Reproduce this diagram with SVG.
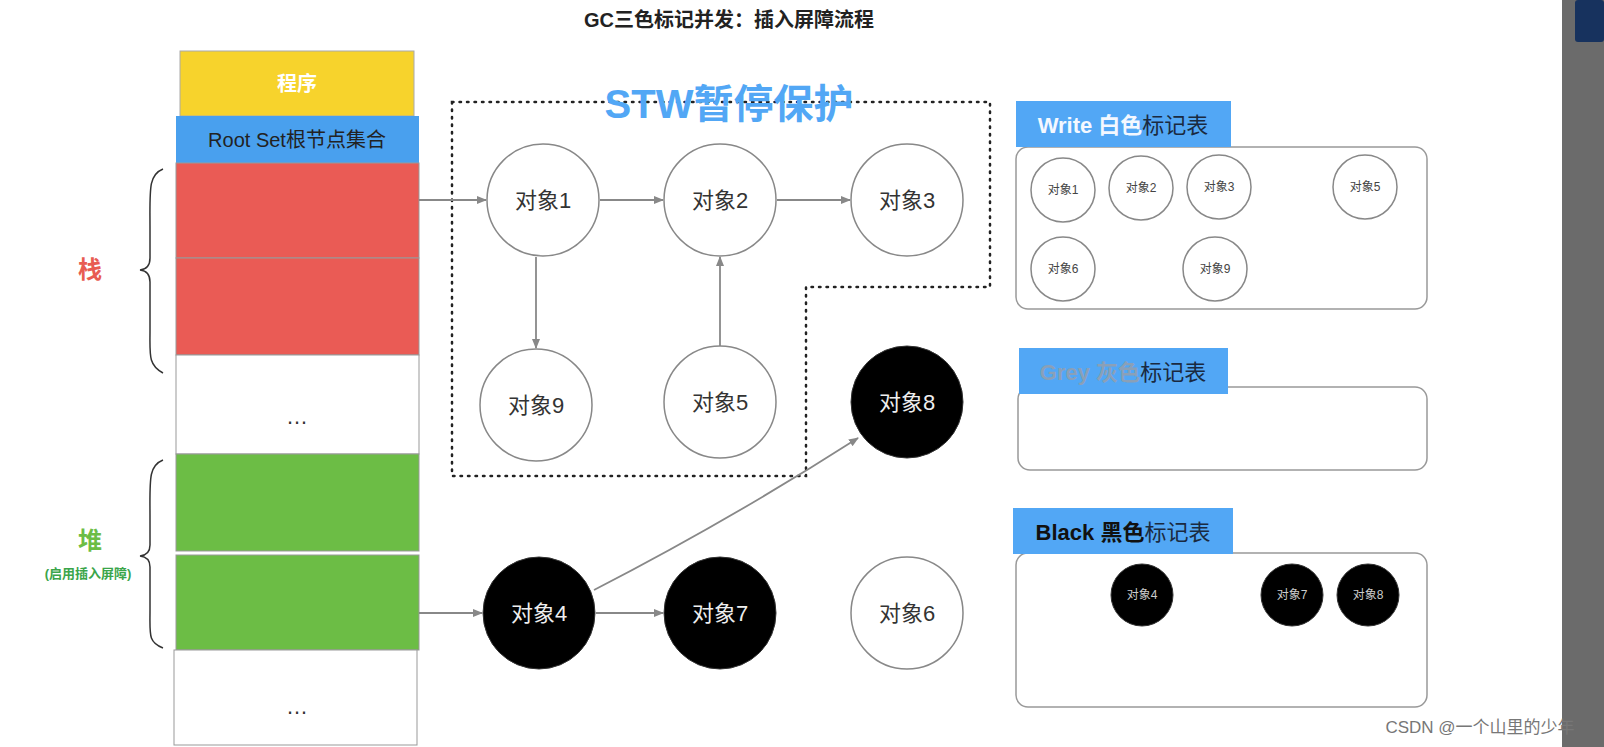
<svg xmlns="http://www.w3.org/2000/svg" width="1604" height="747" viewBox="0 0 1604 747">
<style>
text{font-family:"Liberation Sans","Noto Sans CJK SC",sans-serif;text-anchor:middle;dominant-baseline:central}
.c{fill:#fff;stroke:#888;stroke-width:1.5}
.b{fill:#000;stroke:#333}
.t{font-size:22px;fill:#333}
.tw{font-size:22px;fill:#eee}
.s{font-size:12px;fill:#444}
.sw{font-size:12px;fill:#ccc}
.e{stroke:#888;stroke-width:1.8;fill:none;marker-end:url(#a)}
.tb{fill:#fff;stroke:#999;stroke-width:1.5}
.lb{fill:#52a7f5}
</style>
<defs><marker id="a" markerWidth="10" markerHeight="8" refX="9" refY="4" orient="auto" markerUnits="userSpaceOnUse"><path d="M0,0L10,4L0,8z" fill="#888"/></marker></defs>
<rect width="1604" height="747" fill="#fff"/>
<text x="729" y="20" style="font-size:20px;font-weight:bold;fill:#222">GC三色标记并发：插入屏障流程</text>
<g id="stack">
<rect x="180" y="51" width="234" height="65" fill="#f7d32c" stroke="#aaa"/>
<text x="297" y="84" style="font-size:20px;fill:#fff;font-weight:bold">程序</text>
<rect x="176" y="116" width="243" height="47" fill="#49a0ee"/>
<text x="297" y="140" style="font-size:20px;fill:#222">Root Set根节点集合</text>
<rect x="176" y="163" width="243" height="95" fill="#ea5b55" stroke="#999"/>
<rect x="176" y="258" width="243" height="97" fill="#ea5b55" stroke="#999"/>
<rect x="176" y="355" width="243" height="99" fill="#fff" stroke="#999"/>
<text x="297" y="416" style="font-size:22px;fill:#333">…</text>
<rect x="176" y="454" width="243" height="97" fill="#6cbd45" stroke="#999"/>
<rect x="176" y="555" width="243" height="95" fill="#6cbd45" stroke="#999"/>
<rect x="174" y="650" width="243" height="95" fill="#fff" stroke="#999"/>
<text x="297" y="706" style="font-size:22px;fill:#333">…</text>
<path d="M163,169 C148,175 150,190 150,230 L150,258 Q150,269 140,270 Q150,271 150,282 L150,330 C150,355 148,365 163,373" fill="none" stroke="#333" stroke-width="1.5"/>
<text x="90" y="269" style="font-size:24px;fill:#e85c52;font-weight:bold">栈</text>
<path d="M163,460 C148,466 150,480 150,520 L150,545 Q150,555 140,556 Q150,557 150,567 L150,610 C150,635 148,642 163,648" fill="none" stroke="#333" stroke-width="1.5"/>
<text x="90" y="540" style="font-size:24px;fill:#6cbd45;font-weight:bold">堆</text>
<text x="88" y="573" style="font-size:13px;fill:#3aa54a;font-weight:bold">(启用插入屏障)</text>
</g>
<path d="M452,102 H990 V287 H806 V476 H452 Z" fill="none" stroke="#222" stroke-width="2.5" stroke-dasharray="1.5 6" stroke-linecap="round"/>
<text x="729" y="104" style="font-size:40px;fill:#52a7f5;font-weight:bold">STW暂停保护</text>
<g id="connectors">
<line class="e" x1="419" y1="200" x2="486" y2="200"/>
<line class="e" x1="600" y1="200" x2="663" y2="200"/>
<line class="e" x1="777" y1="200" x2="850" y2="200"/>
<line class="e" x1="536" y1="257" x2="536" y2="348"/>
<line class="e" x1="720" y1="346" x2="720" y2="257"/>
<line class="e" x1="419" y1="613" x2="482" y2="613"/>
<line class="e" x1="596" y1="613" x2="663" y2="613"/>
<path class="e" d="M594,590 Q730,520 858,438"/>
</g>
<g id="n1"><circle class="c" cx="543" cy="200" r="56"/><text class="t" x="543" y="200">对象1</text></g>
<g id="n2"><circle class="c" cx="720" cy="200" r="56"/><text class="t" x="720" y="200">对象2</text></g>
<g id="n3"><circle class="c" cx="907" cy="200" r="56"/><text class="t" x="907" y="200">对象3</text></g>
<g id="n9"><circle class="c" cx="536" cy="405" r="56"/><text class="t" x="536" y="405">对象9</text></g>
<g id="n5"><circle class="c" cx="720" cy="402" r="56"/><text class="t" x="720" y="402">对象5</text></g>
<g id="n8"><circle class="b" cx="907" cy="402" r="56"/><text class="tw" x="907" y="402">对象8</text></g>
<g id="n4"><circle class="b" cx="539" cy="613" r="56"/><text class="tw" x="539" y="613">对象4</text></g>
<g id="n7"><circle class="b" cx="720" cy="613" r="56"/><text class="tw" x="720" y="613">对象7</text></g>
<g id="n6"><circle class="c" cx="907" cy="613" r="56"/><text class="t" x="907" y="613">对象6</text></g>
<g id="white-table">
<rect class="tb" x="1016" y="147" width="411" height="162" rx="12"/>
<rect class="lb" x="1016" y="101" width="215" height="46"/>
<text x="1123" y="125" style="font-size:22px;font-weight:bold"><tspan fill="#f4f8ff">Write 白色</tspan><tspan fill="#1a2a40" font-weight="normal">标记表</tspan></text>
<circle class="c" cx="1063" cy="190" r="32"/><text class="s" x="1063" y="190">对象1</text>
<circle class="c" cx="1141" cy="188" r="32"/><text class="s" x="1141" y="188">对象2</text>
<circle class="c" cx="1219" cy="187" r="32"/><text class="s" x="1219" y="187">对象3</text>
<circle class="c" cx="1365" cy="187" r="32"/><text class="s" x="1365" y="187">对象5</text>
<circle class="c" cx="1063" cy="269" r="32"/><text class="s" x="1063" y="269">对象6</text>
<circle class="c" cx="1215" cy="269" r="32"/><text class="s" x="1215" y="269">对象9</text>
</g>
<g id="grey-table">
<rect class="tb" x="1018" y="387" width="409" height="83" rx="12"/>
<rect class="lb" x="1019" y="348" width="209" height="46"/>
<text x="1123" y="372" style="font-size:22px;font-weight:bold"><tspan fill="#8aa0b8">Grey 灰色</tspan><tspan fill="#1a2a40" font-weight="normal">标记表</tspan></text>
</g>
<g id="black-table">
<rect class="tb" x="1016" y="553" width="411" height="154" rx="12"/>
<rect class="lb" x="1013" y="508" width="220" height="46"/>
<text x="1123" y="532" style="font-size:22px;font-weight:bold"><tspan fill="#111">Black 黑色</tspan><tspan fill="#1a2a40" font-weight="normal">标记表</tspan></text>
<circle class="b" cx="1142" cy="595" r="31"/><text class="sw" x="1142" y="595">对象4</text>
<circle class="b" cx="1292" cy="595" r="31"/><text class="sw" x="1292" y="595">对象7</text>
<circle class="b" cx="1368" cy="595" r="31"/><text class="sw" x="1368" y="595">对象8</text>
</g>
<rect x="1562" y="0" width="42" height="747" fill="#6b6b6b"/>
<rect x="1575" y="0" width="29" height="42" rx="3" fill="#17325e"/>
<text x="1480" y="727" style="font-size:17px;fill:#777">CSDN @一个山里的少年</text>
</svg>
